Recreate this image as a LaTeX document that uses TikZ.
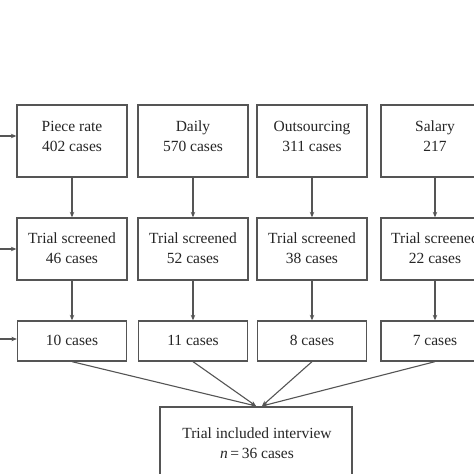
\documentclass[tikz,border=0pt]{standalone}
\usepackage{fontspec}
\setmainfont{Liberation Serif}
\usetikzlibrary{arrows.meta,calc}
\definecolor{linec}{HTML}{555555}
\definecolor{textc}{HTML}{262626}
\tikzset{
  box/.style={draw=linec, line width=1.3pt, rectangle, inner sep=0pt},
  txt/.style={text=textc, align=center, font=\fontsize{15.5}{20}\selectfont, inner sep=0pt},
  arr/.style={draw=linec, line width=1.1pt, -{Stealth[length=5.5pt,width=4.5pt]}},
  ln/.style={draw=linec, line width=1.1pt}
}
\begin{document}
\begin{tikzpicture}[x=1pt,y=-1pt]
\useasboundingbox[fill=white] (0,0) rectangle (474,474);
\clip (0,0) rectangle (474,474);
% row 1
\node[box, minimum width=110pt, minimum height=72pt] (a1) at (72,141) {};
\node[box, minimum width=110pt, minimum height=72pt] (b1) at (193,141) {};
\node[box, minimum width=110pt, minimum height=72pt] (c1) at (312,141) {};
\node[box, minimum width=108pt, minimum height=72pt] (d1) at (435,141) {};
\node[txt] (ta1) at (72,136) {Piece rate\\402 cases};
\node[txt] (tb1) at (193,136) {Daily\\570 cases};
\node[txt] (tc1) at (312,136) {Outsourcing\\311 cases};
\node[txt] (td1) at (435,136) {Salary\\217};
% row 2
\node[box, minimum width=110pt, minimum height=62pt] (a2) at (72,249) {};
\node[box, minimum width=110pt, minimum height=62pt] (b2) at (193,249) {};
\node[box, minimum width=110pt, minimum height=62pt] (c2) at (312,249) {};
\node[box, minimum width=108pt, minimum height=62pt] (d2) at (435,249) {};
\node[txt] (ta2) at (72,248) {Trial screened\\46 cases};
\node[txt] (tb2) at (193,248) {Trial screened\\52 cases};
\node[txt] (tc2) at (312,248) {Trial screened\\38 cases};
\node[txt] (td2) at (435,248) {Trial screened\\22 cases};
% row 3
\node[box, minimum width=109pt, minimum height=40pt] (a3) at (72,341) {};
\node[box, minimum width=109pt, minimum height=40pt] (b3) at (193,341) {};
\node[box, minimum width=109pt, minimum height=40pt] (c3) at (312,341) {};
\node[box, minimum width=108pt, minimum height=40pt] (d3) at (435,341) {};
\node[txt] (ta3) at (72,340) {10 cases};
\node[txt] (tb3) at (193,340) {11 cases};
\node[txt] (tc3) at (312,340) {8 cases};
\node[txt] (td3) at (435,340) {7 cases};
% bottom
\node[box, minimum width=192pt, minimum height=74pt] (e) at (256,444) {};
\node[txt] (te) at (257,443) {Trial included interview\\\textit{n}\,=\,36 cases};
% left arrows
\coordinate (l1) at (0,136);
\coordinate (l2) at (0,249);
\coordinate (l3) at (0,339);
\draw[arr] (l1) -- (l1 -| a1.west);
\draw[arr] (l2) -- (l2 -| a2.west);
\draw[arr] (l3) -- (l3 -| a3.west);
% vertical arrows
\foreach \c in {a,b,c,d}{
  \draw[arr] (\c1.south) -- (\c2.north);
  \draw[arr] (\c2.south) -- (\c3.north);
}
% converging
\coordinate (eL) at (256,406);
\coordinate (eR) at (262,406);
\draw[arr] (a3.south) -- (eL);
\draw[arr] (b3.south) -- (eL);
\draw[arr] (c3.south) -- (eR);
\draw[arr] (d3.south) -- (eR);
\end{tikzpicture}
\end{document}
